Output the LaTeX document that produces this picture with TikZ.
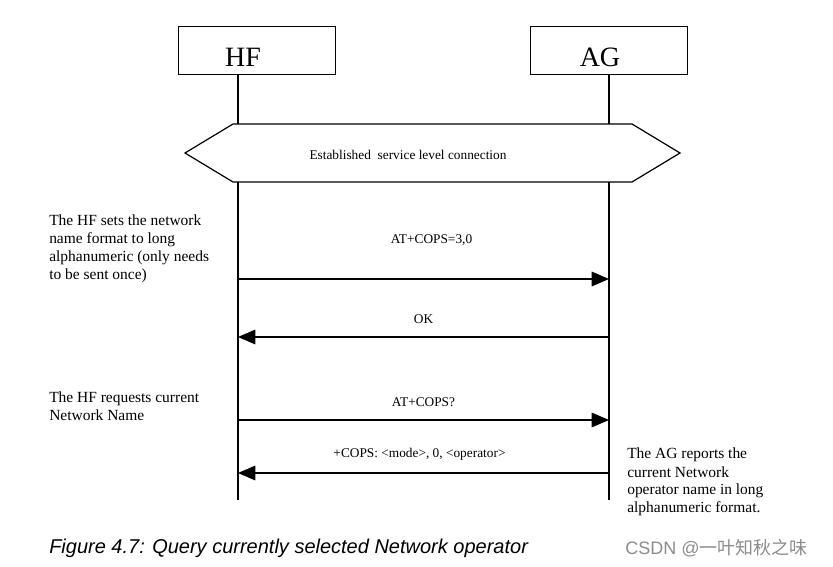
\documentclass[tikz,border=0pt]{standalone}
\usepackage{fontspec}
\setmainfont{Liberation Serif}
\newfontfamily\capfont{Liberation Sans}
\newfontfamily\cjk{Noto Sans CJK SC}
\usetikzlibrary{arrows.meta}

\begin{document}
\begin{tikzpicture}[x=0.75pt,y=-0.75pt,
  ent/.style={draw,minimum width=117.75pt,minimum height=36pt},
  entlbl/.style={font=\fontsize{21}{21}\selectfont},
  msg/.style={font=\fontsize{10}{12}\selectfont},
  note/.style={align=left,anchor=north west,inner sep=0pt,font=\fontsize{11.6}{13.5}\selectfont},
  sig/.style={line width=0.9pt,-{Triangle[length=13pt,width=11pt]}}]
 \useasboundingbox (0,0) rectangle (833,567);

 \node[ent] (hf) at (256.5,50) {};
 \node[ent] (ag) at (609,50) {};
 \node[entlbl] (hflbl) at (243,57) {HF};
 \node[entlbl] (aglbl) at (600,57) {AG};

 \coordinate (hfend) at (238,500);
 \coordinate (agend) at (609,500);
 \draw [line width=0.9pt] (hf.south -| hfend) -- (hfend);
 \draw [line width=0.9pt] (ag.south -| agend) -- (agend);

 \draw [line width=0.9pt,fill=white] (185,153) -- (233,124) -- (632,124)
   -- (680,153) -- (632,182) -- (233,182) -- cycle;
 \node[msg] (slc) at (408,155) {Established\ \ service level connection};

 \coordinate (h1) at (238,279); \coordinate (a1) at (609,279);
 \coordinate (h2) at (238,337); \coordinate (a2) at (609,337);
 \coordinate (h3) at (238,420); \coordinate (a3) at (609,420);
 \coordinate (h4) at (238,473); \coordinate (a4) at (609,473);

 \draw [sig] (h1) -- node [msg,above=21pt,xshift=6pt] {AT+COPS=3,0} (a1);
 \draw [sig] (a2) -- node [msg,above=6pt] {OK} (h2);
 \draw [sig] (h3) -- node [msg,above=6pt] {AT+COPS?} (a3);
 \draw [sig] (a4) -- node [msg,above=6pt,xshift=-3pt] {+COPS: <mode>, 0, <operator>} (h4);

 \node[note] (n1) at (49,215) {The HF sets the network\\name format to long\\alphanumeric (only needs\\to be sent once)};
 \node[note] (n2) at (49,392) {The HF requests current\\Network Name};
 \node[note] (n3) at (627,448) {The AG reports the\\current Network\\operator name in long\\alphanumeric format.};

 \node[anchor=west,inner sep=0pt,font=\capfont\itshape\fontsize{15}{15}\selectfont] (cap) at (49,548)
   {Figure 4.7: Query currently selected Network operator};
 \node[anchor=west,inner sep=0pt,text=black!45,font=\fontsize{13.5}{13.5}\selectfont] (wm) at (625,548)
   {\capfont CSDN @\cjk 一叶知秋之味};
\end{tikzpicture}
\end{document}
